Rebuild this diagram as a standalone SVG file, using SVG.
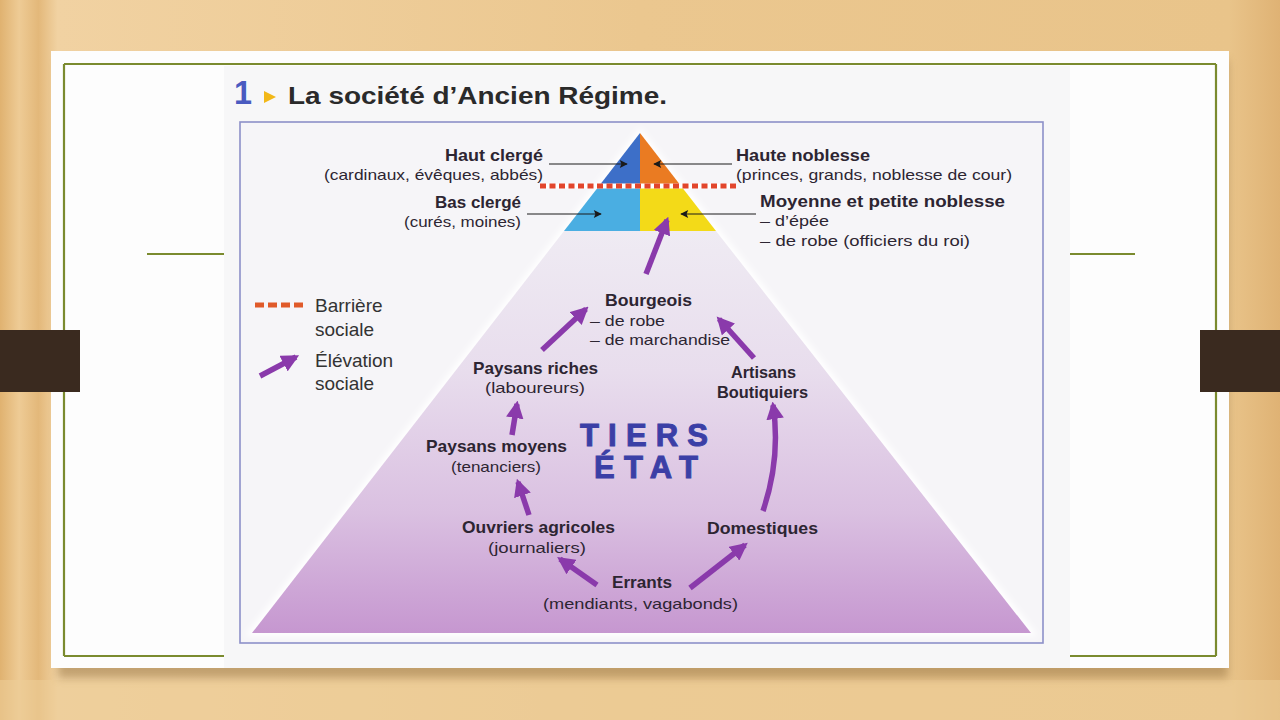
<svg xmlns="http://www.w3.org/2000/svg" width="1280" height="720" viewBox="0 0 1280 720">
<defs>
<linearGradient id="wood" x1="0" y1="0" x2="1" y2="0">
<stop offset="0" stop-color="#e0b270"/>
<stop offset="0.015" stop-color="#eecb95"/>
<stop offset="0.03" stop-color="#e3b87a"/>
<stop offset="0.045" stop-color="#f1d2a2"/>
<stop offset="0.5" stop-color="#ebc78f"/>
<stop offset="0.96" stop-color="#e9c48a"/>
<stop offset="1" stop-color="#dfb274"/>
</linearGradient>
<linearGradient id="pyr" x1="0" y1="0" x2="0" y2="1">
<stop offset="0" stop-color="#efebf3"/>
<stop offset="0.35" stop-color="#e8dded"/>
<stop offset="0.7" stop-color="#dac0e1"/>
<stop offset="1" stop-color="#c697d0"/>
</linearGradient>
<filter id="blur" x="-10%" y="-10%" width="120%" height="120%"><feGaussianBlur stdDeviation="3"/></filter>
<filter id="shadow" x="-5%" y="-5%" width="110%" height="120%"><feGaussianBlur stdDeviation="4"/></filter>
<marker id="ph" viewBox="0 0 10 10" refX="8" refY="5" markerWidth="3.2" markerHeight="3.2" orient="auto" markerUnits="strokeWidth">
<path d="M0,0 L10,5 L0,10 Z" fill="#8a3aab"/>
</marker>
<marker id="bh" viewBox="0 0 10 10" refX="9" refY="5" markerWidth="10" markerHeight="8" orient="auto" markerUnits="userSpaceOnUse">
<path d="M0,0 L10,5 L0,10 L2,5 Z" fill="#1a1a1a"/>
</marker>
<style>
.lb{font-family:"Liberation Sans",Arial,sans-serif;font-weight:bold;font-size:16.5px;fill:#2d2532}
.lr{font-family:"Liberation Sans",Arial,sans-serif;font-size:15px;fill:#2d2532}
.leg{font-family:"Liberation Sans",Arial,sans-serif;font-size:19px;fill:#333}
.tiers{font-family:"Liberation Sans",Arial,sans-serif;font-weight:bold;font-size:31px;fill:#3b3fa6;stroke:#3b3fa6;stroke-width:1}
.ar{fill:none;stroke:#8a3aab;stroke-width:5.5;marker-end:url(#ph)}
.ld{fill:none;stroke:#1a1a1a;stroke-width:1;marker-end:url(#bh)}
.gr{stroke:#7b8b2f;stroke-width:2.2;fill:none}
</style>
</defs>

<!-- background wood -->
<rect x="0" y="0" width="1280" height="720" fill="url(#wood)"/>
<rect x="0" y="680" width="1280" height="40" fill="#edcd98" opacity="0.6"/>

<!-- paper with shadow -->
<rect x="58" y="60" width="1170" height="618" fill="#9c7a4a" opacity="0.55" filter="url(#shadow)"/>
<rect x="51" y="51" width="1178" height="617" fill="#fdfdfd"/>
<!-- image area -->
<rect x="224" y="66" width="846" height="602" fill="#f7f7f8"/>

<!-- green frame -->
<g id="frame">
<line class="gr" x1="64" y1="64" x2="1216" y2="64"/>
<line class="gr" x1="64" y1="64" x2="64" y2="656"/>
<line class="gr" x1="1216" y1="64" x2="1216" y2="656"/>
<line class="gr" x1="64" y1="656" x2="224" y2="656"/>
<line class="gr" x1="1070" y1="656" x2="1216" y2="656"/>
<line class="gr" x1="147" y1="254" x2="224" y2="254"/>
<line class="gr" x1="1070" y1="254" x2="1135" y2="254"/>
</g>

<!-- dark bars -->
<rect x="0" y="330" width="80" height="62" fill="#3a2a1f"/>
<rect x="1200" y="330" width="80" height="62" fill="#3a2a1f"/>

<!-- title -->
<g id="title">
<text x="234" y="104" font-family="Liberation Sans, Arial, sans-serif" font-weight="bold" font-size="34" fill="#4a5bc0" textLength="18" lengthAdjust="spacingAndGlyphs">1</text>
<polygon points="264,91 276,97 264,103" fill="#f2b818"/>
<text x="288" y="104" font-family="Liberation Sans, Arial, sans-serif" font-weight="bold" font-size="24" fill="#2a2a2a" textLength="379" lengthAdjust="spacingAndGlyphs">La société d’Ancien Régime.</text>
</g>

<!-- diagram frame -->
<rect x="240" y="122" width="803" height="521" fill="#f6f5f8" stroke="#8d90c8" stroke-width="1.6"/>

<!-- pyramid -->
<g id="pyramid">
<polygon points="640,128 1038,636 245,636" fill="#ffffff" filter="url(#blur)"/>
<polygon points="564,231 716,231 1031,633 252,633" fill="url(#pyr)"/>
<polygon points="640,133 640,186 599,186" fill="#3d6fc8"/>
<polygon points="640,133 681,186 640,186" fill="#ea7b22"/>
<polygon points="599,186 640,186 640,231 564,231" fill="#4aaee2"/>
<polygon points="640,186 681,186 716,231 640,231" fill="#f3da18"/>
</g>

<!-- barrier -->
<g id="barrier">
<line x1="540" y1="186" x2="736" y2="186" stroke="#ffffff" stroke-width="5"/>
<line x1="540" y1="186" x2="736" y2="186" stroke="#e2452b" stroke-width="5" stroke-dasharray="6 3.5"/>
</g>

<!-- legend -->
<g id="legend">
<line x1="255" y1="305" x2="304" y2="305" stroke="#e05a2a" stroke-width="5" stroke-dasharray="9 4"/>
<text class="leg" x="315" y="312">Barrière</text>
<text class="leg" x="315" y="336">sociale</text>
<line class="ar" x1="260" y1="376" x2="296" y2="357"/>
<text class="leg" x="315" y="367">Élévation</text>
<text class="leg" x="315" y="390">sociale</text>
</g>

<!-- nodes -->
<g id="haut-clerge">
<text class="lb" x="543" y="161" text-anchor="end" textLength="98" lengthAdjust="spacingAndGlyphs">Haut clergé</text>
<text class="lr" x="543" y="180" text-anchor="end" textLength="219" lengthAdjust="spacingAndGlyphs">(cardinaux, évêques, abbés)</text>
</g>
<g id="haute-noblesse">
<text class="lb" x="736" y="161" textLength="134" lengthAdjust="spacingAndGlyphs">Haute noblesse</text>
<text class="lr" x="736" y="180" textLength="276" lengthAdjust="spacingAndGlyphs">(princes, grands, noblesse de cour)</text>
</g>
<g id="bas-clerge">
<text class="lb" x="521" y="208" text-anchor="end" textLength="86" lengthAdjust="spacingAndGlyphs">Bas clergé</text>
<text class="lr" x="521" y="227" text-anchor="end" textLength="117" lengthAdjust="spacingAndGlyphs">(curés, moines)</text>
</g>
<g id="moyenne-noblesse">
<text class="lb" x="760" y="207" textLength="245" lengthAdjust="spacingAndGlyphs">Moyenne et petite noblesse</text>
<text class="lr" x="760" y="226" textLength="69" lengthAdjust="spacingAndGlyphs">– d’épée</text>
<text class="lr" x="760" y="246" textLength="210" lengthAdjust="spacingAndGlyphs">– de robe (officiers du roi)</text>
</g>
<g id="bourgeois">
<text class="lb" x="605" y="306" textLength="87" lengthAdjust="spacingAndGlyphs">Bourgeois</text>
<text class="lr" x="590" y="326" font-size="16" textLength="75" lengthAdjust="spacingAndGlyphs">– de robe</text>
<text class="lr" x="590" y="345" font-size="16" textLength="140" lengthAdjust="spacingAndGlyphs">– de marchandise</text>
</g>
<g id="paysans-riches">
<text class="lb" x="473" y="374" textLength="125" lengthAdjust="spacingAndGlyphs">Paysans riches</text>
<text class="lr" x="485" y="393" font-size="16" textLength="100" lengthAdjust="spacingAndGlyphs">(laboureurs)</text>
</g>
<g id="artisans">
<text class="lb" x="731" y="378" textLength="65" lengthAdjust="spacingAndGlyphs">Artisans</text>
<text class="lb" x="717" y="398" textLength="91" lengthAdjust="spacingAndGlyphs">Boutiquiers</text>
</g>
<g id="tiers-etat">
<text class="tiers" x="580" y="446" textLength="128" lengthAdjust="spacing">TIERS</text>
<text class="tiers" x="594" y="478" textLength="104" lengthAdjust="spacing">ÉTAT</text>
</g>
<g id="paysans-moyens">
<text class="lb" x="426" y="452" textLength="141" lengthAdjust="spacingAndGlyphs">Paysans moyens</text>
<text class="lr" x="451" y="472" font-size="16" textLength="90" lengthAdjust="spacingAndGlyphs">(tenanciers)</text>
</g>
<g id="ouvriers">
<text class="lb" x="462" y="533" textLength="153" lengthAdjust="spacingAndGlyphs">Ouvriers agricoles</text>
<text class="lr" x="488" y="553" font-size="16" textLength="98" lengthAdjust="spacingAndGlyphs">(journaliers)</text>
</g>
<g id="domestiques">
<text class="lb" x="707" y="534" textLength="111" lengthAdjust="spacingAndGlyphs">Domestiques</text>
</g>
<g id="errants">
<text class="lb" x="612" y="588" textLength="60" lengthAdjust="spacingAndGlyphs">Errants</text>
<text class="lr" x="543" y="609" font-size="16" textLength="195" lengthAdjust="spacingAndGlyphs">(mendiants, vagabonds)</text>
</g>

<!-- connectors -->
<g id="connectors">
<line class="ld" x1="549" y1="164" x2="627" y2="164"/>
<line class="ld" x1="732" y1="164" x2="654" y2="164"/>
<line class="ld" x1="527" y1="214" x2="601" y2="214"/>
<line class="ld" x1="756" y1="214" x2="681" y2="214"/>
<line class="ar" x1="646" y1="274" x2="667" y2="220"/>
<line class="ar" x1="542" y1="350" x2="586" y2="309"/>
<line class="ar" x1="754" y1="358" x2="719" y2="319"/>
<line class="ar" x1="512" y1="435" x2="517" y2="404"/>
<line class="ar" x1="529" y1="515" x2="518" y2="482"/>
<line class="ar" x1="597" y1="585" x2="560" y2="559"/>
<line class="ar" x1="690" y1="588" x2="745" y2="545"/>
<path class="ar" d="M763,511 Q781,458 773,405"/>
</g>
</svg>
